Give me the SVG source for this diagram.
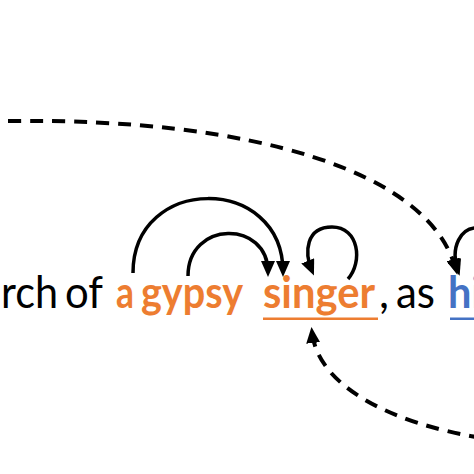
<svg xmlns="http://www.w3.org/2000/svg" width="474" height="474" viewBox="0 0 474 474">
  <defs>
    <style>
      .w { font-family: Lato, "Open Sans", "Liberation Sans", sans-serif; font-size: 44px; }
      .plain { fill: #000; }
      .org { fill: #ED7D31; font-weight: bold; }
      .blu { fill: #4472C4; font-weight: bold; }
      .solid { fill: none; stroke: #000; stroke-width: 3.5; marker-end: url(#ah); }
      .dash { fill: none; stroke: #000; stroke-width: 4; stroke-dasharray: 13 9; marker-end: url(#ah); }
    </style>
    <marker id="ah" markerUnits="userSpaceOnUse" markerWidth="16" markerHeight="14" refX="11" refY="7" orient="auto">
      <path d="M0,0 L16,7 L0,14 Z" fill="#000"/>
    </marker>
  </defs>
  <rect width="474" height="474" fill="#fff"/>

  <g id="sentence">
    <text class="w plain" x="1" y="308" textLength="57" lengthAdjust="spacingAndGlyphs">rch</text>
    <text class="w plain" x="65" y="308" textLength="38" lengthAdjust="spacingAndGlyphs">of</text>
  </g>
  <g id="node-a">
    <text class="w org" x="116" y="308" textLength="18" lengthAdjust="spacingAndGlyphs">a</text>
  </g>
  <g id="node-gypsy">
    <text class="w org" x="141" y="308" textLength="102" lengthAdjust="spacingAndGlyphs">gypsy</text>
  </g>
  <g id="node-singer">
    <text class="w org" y="308"><tspan x="263" textLength="112" lengthAdjust="spacingAndGlyphs">singer</tspan><tspan x="379" style="fill:#000;font-weight:normal">,</tspan></text>
    <rect x="263" y="317.5" width="115" height="2.5" fill="#ED7D31"/>
  </g>
  <g id="punct">
    <text class="w plain" x="396" y="308" textLength="39" lengthAdjust="spacingAndGlyphs">as</text>
  </g>
  <g id="node-hi">
    <text class="w blu" x="448" y="308" textLength="34" lengthAdjust="spacingAndGlyphs">hi</text>
    <rect x="450" y="317.5" width="30" height="2.5" fill="#4472C4"/>
  </g>

  <g id="connectors">
    <path class="solid" d="M133,273 C133,174 283,174 283,272"/>
    <path class="solid" d="M188,276 C188,220 268,220 268,272"/>
    <path class="solid" d="M348,279 C363,262 359,227 332,227 C306,227 304,252 312,271"/>
    <path class="solid" d="M480,228 C460,226 450,248 458,271"/>
    <path class="dash" d="M8,121 C250,118 430,170 456,270"/>
    <path class="dash" d="M482,438 C395,424 318,388 312,332"/>
  </g>
</svg>
